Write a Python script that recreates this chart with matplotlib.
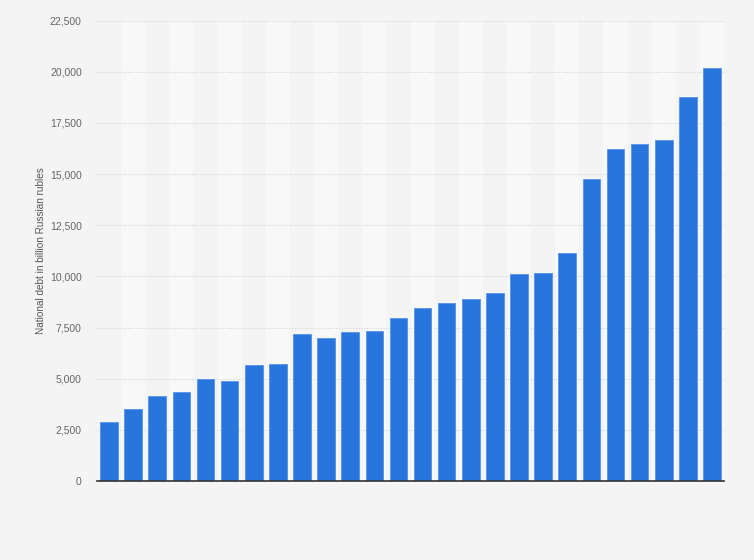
import matplotlib.pyplot as plt

plt.rcParams["font.family"] = ["Liberation Sans", "DejaVu Sans"]

years = [str(y) for y in range(1998, 2024)]
debt = [2890, 3530, 4165, 4360, 4970, 4900, 5685, 5735, 7200, 7005,
        7270, 7350, 7985, 8430, 8675, 8890, 9185, 10115, 10165, 11145,
        14770, 16205, 16485, 16680, 18785, 20160]
yticks = [0, 2500, 5000, 7500, 10000, 12500, 15000, 17500, 20000, 22500]

bg = "#f4f4f4"
fig = plt.figure(figsize=(7.54, 5.6), dpi=100, facecolor=bg)
ax = fig.add_axes([97 / 754, 79 / 560, 627 / 754, 460.5 / 560])
ax.set_facecolor(bg)

x = list(range(len(years)))
# alternating column shading
for i in x:
    if i % 2 == 1:
        ax.axvspan(i - 0.5, i + 0.5, color="#f8f8f8", zorder=0, lw=0)

for t in yticks[1:]:
    ax.axhline(t, color="#d4d4d4", lw=0.8, ls=(0, (1, 1.5)), zorder=1)

ax.bar(x, debt, width=0.73, color="#2876dd", edgecolor="#5593e6", linewidth=0.6, zorder=2)
ax.axhline(0, color="#333333", lw=1.2, zorder=3, clip_on=False)

ax.set_xlim(-0.5, len(years) - 0.5)
ax.set_ylim(0, 22500)
ax.set_xticks(x)
ax.set_xticklabels([])
ax.tick_params(axis="x", length=0)
ax.set_yticks(yticks)
ax.set_yticklabels([f"{t:,}" for t in yticks], color="#666666", fontsize=7.5)
ax.tick_params(axis="y", length=0, pad=11)
for s in ax.spines.values():
    s.set_visible(False)

ax.set_ylabel("National debt in billion Russian rubles", fontsize=7.2, color="#555555")
ax.yaxis.set_label_coords(-51 / 627, 0.5)

plt.savefig("out.png", dpi=100, facecolor=bg)
